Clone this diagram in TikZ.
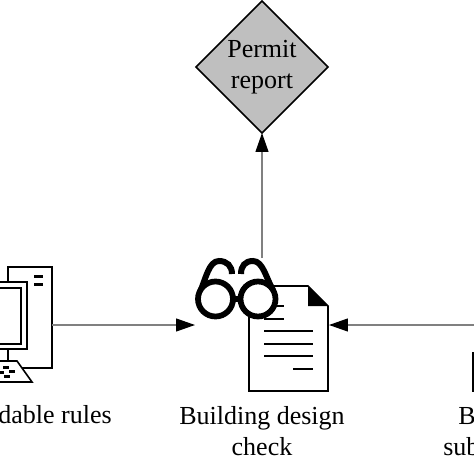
\documentclass[tikz,border=0pt]{standalone}
\usepackage{fontspec}
\setmainfont{Liberation Serif}
\usetikzlibrary{arrows.meta,shapes.geometric}
\tikzset{
  flow/.style={draw=black!50,line width=0.024cm,-{Triangle[length=0.38cm,width=0.26cm,color=black]}},
  icon/.style={draw=black,line width=0.032cm},
  textline/.style={line width=0.04cm},
  rim/.style={draw=black,fill=white,line width=0.115cm},
  temple/.style={line width=0.12cm},
  label/.style={font=\fontsize{14.8pt}{17.6pt}\selectfont,align=center,inner sep=0pt},
  reportbox/.style={shape=diamond,draw=black,line width=0.03cm,fill=black!25,
    minimum width=2.64cm,minimum height=2.64cm,inner sep=0pt,outer sep=0pt,aspect=1}
}
\begin{document}
\begin{tikzpicture}[x=0.02cm,y=-0.02cm]
  \clip (0,0) rectangle (474,474);
  \fill[white] (0,0) rectangle (474,474);
  % computer on the left, cut by the edge
  \node[icon,fill=white,minimum width=0.88cm,minimum height=2.02cm,inner sep=0pt,outer sep=0pt] (tower) at (30,317.5) {};
  \fill (34,274.5) rectangle (43,278);
  \fill (34,282.5) rectangle (43,286);
  \draw[icon] (8,349) -- (8,361);
  \draw[icon,fill=white] (-20,382) -- (32,382) -- (17,361) -- (-20,361) -- cycle;
  \foreach \x/\y in {3/366,9/370,-2/371,4/375}{
    \fill (\x,\y) rectangle ++(6,2.5);
  }
  \draw[icon,fill=white] (-20,282) rectangle (27,349);
  \draw[icon] (-20,288) rectangle (21,344);
  \coordinate (pcout) at (52,325);
  % document
  \draw[icon,fill=white] (249,286) -- (308,286) -- (328,306) -- (328,391) -- (249,391) -- cycle;
  \fill (308,286) -- (328,306) -- (308,306) -- cycle;
  \foreach \y in {306,319}{
    \draw[textline] (264,\y) -- (284,\y);
  }
  \foreach \y in {331,343.5,356}{
    \draw[textline] (264,\y) -- (313,\y);
  }
  \draw[textline] (293,368.5) -- (313,368.5);
  % right input, only its edge is inside
  \draw[icon] (473,352) -- (473,392);
  % report and arrows
  \node[reportbox,label] (report) at (262,67) {Permit\\report};
  \coordinate (glassin) at (195,325);
  \coordinate (docin) at (329,325);
  \coordinate (docout) at (262,258);
  \coordinate (rightin) at (474,325);
  \draw[flow] (pcout) -- (glassin);
  \draw[flow] (rightin) -- (docin);
  \draw[flow] (docout) -- (report.south);
  % glasses
  \draw[temple] (200,292) .. controls (206,278) and (209,261) .. (219,261)
    .. controls (227,261) and (232,266) .. (232,274);
  \draw[temple] (241,274) .. controls (241,266) and (245,261) .. (253,261)
    .. controls (263,261) and (266,278) .. (273,290);
  \draw[rim] (215.5,299) circle (17.5);
  \draw[rim] (258,299) circle (17.5);
  \draw[line width=0.11cm] (233,299) -- (240.5,299);
  % captions
  \node[label,anchor=base east] (rulestext) at (112,423) {Readable rules};
  \node[label,anchor=base] (checktext) at (262,424) {Building design};
  \node[label,anchor=base] (checktext2) at (262,455) {check};
  \node[label,anchor=base west] (inputtext) at (458,424) {Building};
  \node[label,anchor=base west] (inputtext2) at (443,455) {submission};
\end{tikzpicture}
\end{document}
